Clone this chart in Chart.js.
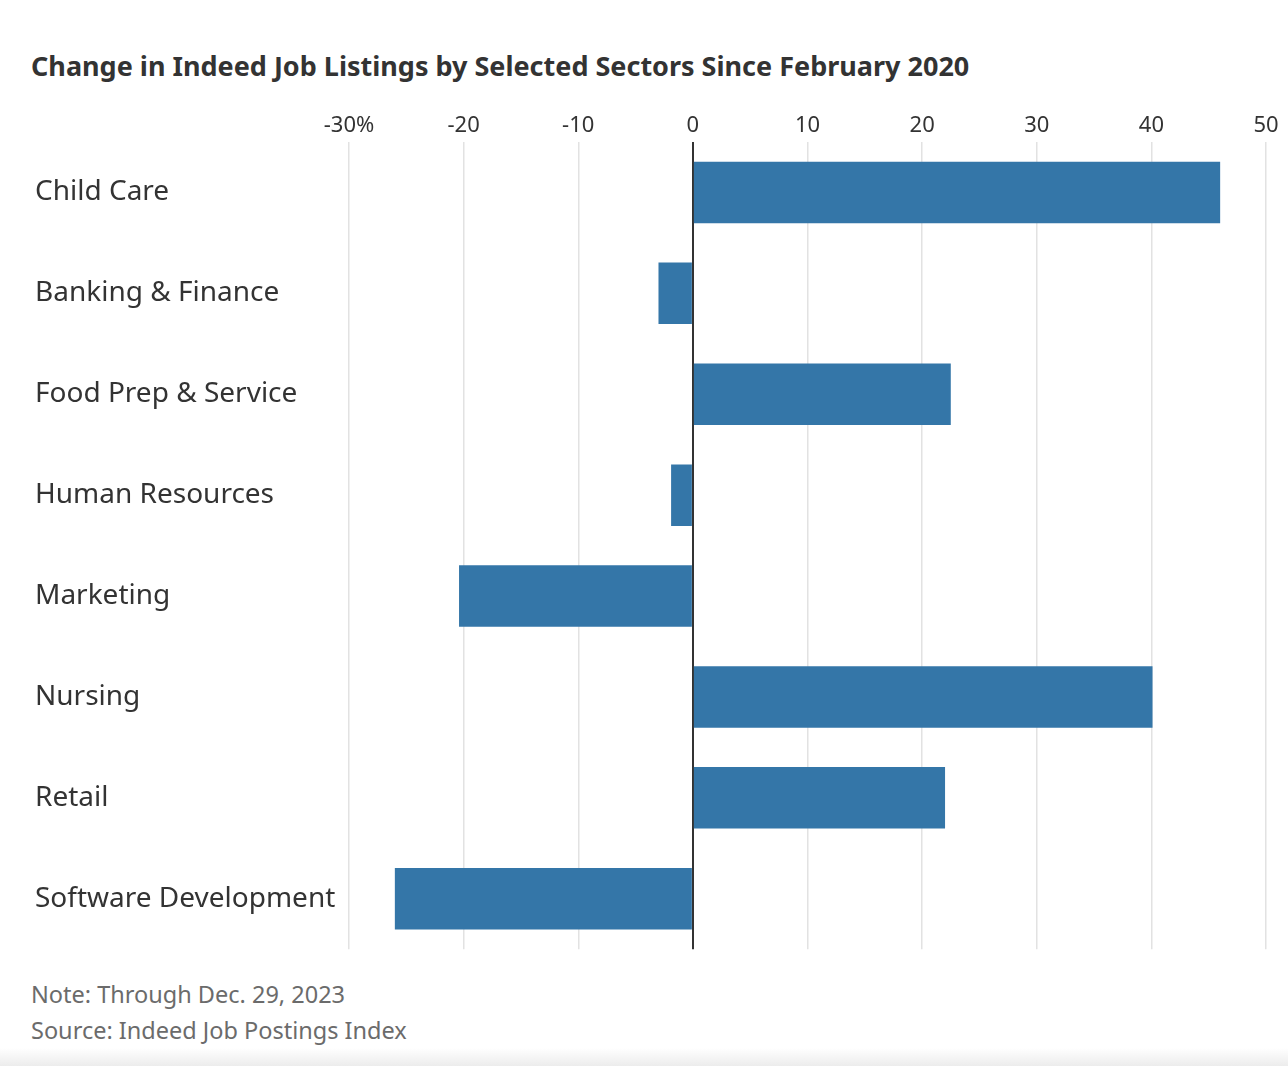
<!DOCTYPE html>
<html lang="en">
<head>
  <meta charset="UTF-8">
  <title>Change in Indeed Job Listings by Selected Sectors</title>
  <script src="https://cdn.jsdelivr.net/npm/chart.js"></script>
  <style>
    body {
      margin: 0;
      width: 1288px;
      height: 1066px;
      position: relative;
      background: #fff;
      font-family: "Noto Sans", Arial, sans-serif;
      overflow: hidden;
    }
    h2 {
      position: absolute;
      left: 31px;
      top: 46px;
      margin: 0;
      font-size: 27px;
      font-weight: 700;
      color: #333;
      line-height: 40px;
    }
    #wrap {
      position: absolute;
      left: 0;
      top: 90px;
      width: 1288px;
      height: 879px;
    }
    .note {
      position: absolute;
      left: 31px;
      margin: 0;
      font-size: 23.5px;
      color: #6b6b6b;
    }
    .shade {
      position: absolute;
      left: 0;
      bottom: 0;
      width: 100%;
      height: 18px;
      background: linear-gradient(#fff, #ececec);
    }
  </style>
</head>
<body>

  <h2>Change in Indeed Job Listings by Selected Sectors Since February 2020</h2>

  <div id="wrap">
    <canvas id="jobChart" width="1288" height="879"></canvas>
  </div>

  <p class="note" style="top: 978px;">Note: Through Dec. 29, 2023</p>
  <p class="note" style="top: 1014px;">Source: Indeed Job Postings Index</p>
  <div class="shade"></div>

  <script>
    const sectors = ['Child Care', 'Banking & Finance', 'Food Prep & Service', 'Human Resources',
                     'Marketing', 'Nursing', 'Retail', 'Software Development'];
    const changePct = [46.0, -3.0, 22.5, -1.9, -20.4, 40.1, 22.0, -26.0];
    const xTicks = [-30, -20, -10, 0, 10, 20, 30, 40, 50];

    const ctx = document.getElementById('jobChart').getContext('2d');
    new Chart(ctx, {
      type: 'bar',
      data: {
        labels: sectors,
        datasets: [{
          data: changePct,
          backgroundColor: '#3476a8',
          borderWidth: 0,
          barPercentage: 0.61,
          categoryPercentage: 1
        }]
      },
      options: {
        indexAxis: 'y',
        responsive: false,
        animation: false,
        layout: {
          padding: { left: 35, right: 22, top: 0, bottom: 11 }
        },
        plugins: {
          legend: { display: false },
          tooltip: { enabled: false }
        },
        scales: {
          x: {
            position: 'top',
            min: xTicks[0],
            max: xTicks[xTicks.length - 1],
            afterBuildTicks: function (scale) {
              scale.ticks = xTicks.map(v => ({ value: v }));
            },
            afterFit: function (scale) {
              scale.height = 52;
            },
            ticks: {
              padding: 3,
              color: '#333',
              font: { family: 'Noto Sans', size: 22 },
              callback: function (v) {
                return v === -30 ? '-30%' : String(v);
              }
            },
            grid: {
              drawTicks: false,
              color: function (c) {
                return c.tick && c.tick.value === 0 ? '#333' : '#e2e2e2';
              },
              lineWidth: function (c) {
                return c.tick && c.tick.value === 0 ? 2 : 1.5;
              }
            },
            border: { display: false }
          },
          y: {
            afterFit: function (scale) {
              scale.width = 314;
            },
            ticks: {
              crossAlign: 'far',
              color: '#333',
              font: { family: 'Noto Sans', size: 28 }
            },
            grid: { display: false },
            border: { display: false }
          }
        }
      }
    });
  </script>

</body>
</html>
